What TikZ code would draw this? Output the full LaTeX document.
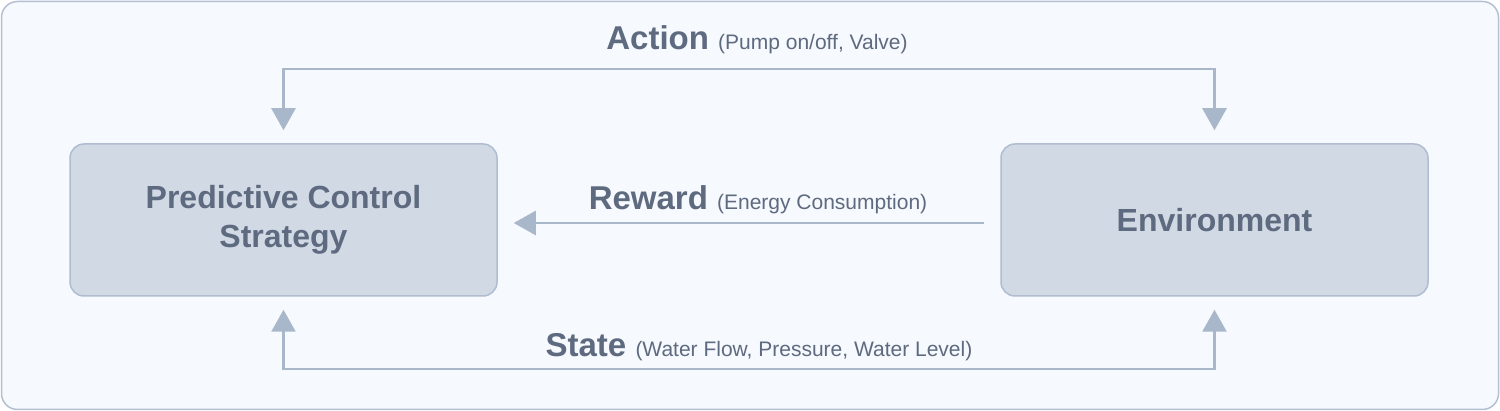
\documentclass[tikz,border=0pt]{standalone}
\usepackage{fontspec}
\setmainfont{Liberation Sans}
\usetikzlibrary{arrows.meta}
\definecolor{framefill}{HTML}{F6F9FD}
\definecolor{framedraw}{HTML}{B4C0D2}
\definecolor{boxfill}{HTML}{D1D9E4}
\definecolor{boxdraw}{HTML}{B0BDD0}
\definecolor{arrcol}{HTML}{A9B7CB}
\definecolor{txt}{HTML}{5E6A7F}
\tikzset{
  boxnode/.style={draw=boxdraw, fill=boxfill, line width=1.5pt, rounded corners=14pt,
    minimum width=427pt, minimum height=152pt, inner sep=0pt, align=center,
    text=txt, font=\fontsize{32}{39}\selectfont\bfseries},
  conn/.style={draw=arrcol, line width=2.6pt, {Triangle[width=24pt,length=22pt]}-{Triangle[width=24pt,length=22pt]}},
  conn1/.style={draw=arrcol, line width=2.6pt, -{Triangle[width=24pt,length=22pt]}},
  lab/.style={anchor=base, text=txt, inner sep=0pt},
  big/.style={font=\fontsize{33}{38}\selectfont\bfseries},
}
\newcommand{\paren}[1]{{\fontsize{21}{24}\selectfont\mdseries #1}}
\begin{document}
\begin{tikzpicture}[x=1pt,y=-1pt]
\useasboundingbox (0,0) rectangle (1500,411);
\draw[draw=framedraw, fill=framefill, line width=1.5pt, rounded corners=16pt] (1.5,1.5) rectangle (1498.5,409.5);
\node[boxnode] (L) at (283.5,220) {Predictive Control\\Strategy};
\node[boxnode] (R) at (1214.5,220) {Environment};
\coordinate (top) at (750,69);
\coordinate (bot) at (750,369);
\coordinate (rwR) at ([yshift=-3pt]R.west);
\coordinate (rwL) at ([yshift=-3pt]L.east);
\draw[conn, shorten <=13pt, shorten >=13pt] (L.north) |- (top) -| (R.north);
\draw[conn, shorten <=13pt, shorten >=13pt] (L.south) |- (bot) -| (R.south);
\draw[conn1, shorten <=16pt, shorten >=16pt] (rwR) -- (rwL);
\node[lab, big] (tA) at (757,50) {Action \paren{(Pump on/off, Valve)}};
\node[lab, big] (tR) at (758,210) {Reward \paren{(Energy Consumption)}};
\node[lab, big] (tS) at (759,357) {State \paren{(Water Flow, Pressure, Water Level)}};
\end{tikzpicture}
\end{document}
